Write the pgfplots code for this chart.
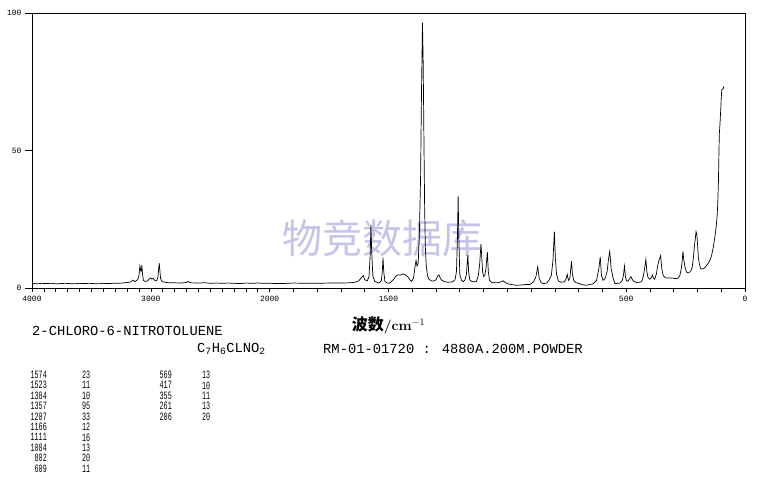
\documentclass[border=0pt]{standalone}
\usepackage{fontspec}
\usepackage{graphicx}
\usepackage{pgfplots}
\pgfplotsset{compat=1.18}
\newfontfamily\mono{Liberation Mono}
\newfontfamily\cjk{Noto Sans CJK SC}
\definecolor{wmark}{RGB}{196,196,232}

\begin{document}
\begin{tikzpicture}[x=1pt,y=1pt]
\useasboundingbox (0,0) rectangle (761,477);
% watermark behind the spectrum
\node[font=\cjk\fontsize{40}{40}\selectfont, text=wmark, inner sep=0] at (382.5,239) {物竞数据库};

\begin{axis}[
  at={(32pt,189pt)}, anchor=south west,
  scale only axis, width=713pt, height=275pt,
  xmin=0, xmax=3000, ymin=0, ymax=100,
  x dir=reverse,
  axis line style={line width=0.8pt},
  tick style={black, line width=0.6pt},
  tick align=outside,
  xtick pos=bottom, ytick pos=left,
  major tick length=4pt, minor tick length=2.5pt,
  xtick={0,100,...,2000,2050,2100,...,3000},
  xticklabels={0,{},{},{},{},500,{},{},{},{},{},{},{},{},{},1500,{},{},{},{},2000,{},{},{},{},{},{},{},{},{},3000,{},{},{},{},{},{},{},{},{},4000},
  ytick=\empty,
  minor ytick={10,20,30,40,60,70,80,90},
  extra y ticks={0,50,100},
  extra y tick labels={0,50,100},
  extra y tick style={major tick length=7pt},
  ticklabel style={font=\mono\fontsize{8}{8}\selectfont},
  xticklabel style={yshift=-1pt},
  xlabel={{\cjk\fontsize{16}{16}\selectfont 波数}/\textbf{cm}$^{-1}$},
  every axis x label/.style={at={(axis description cs:0.5,0)}, anchor=north, yshift=-25pt, font=\fontsize{14}{14}\selectfont\bfseries},
]
\addplot[black, line width=0.7pt, mark=none]
  table[x expr={\thisrow{wn}>2000 ? 2000+(\thisrow{wn}-2000)/2 : \thisrow{wn}}, y=int] {
wn int
4000 1.7
3960 1.5
3920 1.7
3880 1.6
3840 1.7
3800 1.5
3760 1.6
3720 1.7
3680 1.6
3640 1.5
3600 1.7
3560 1.6
3520 1.7
3480 1.6
3440 1.5
3400 1.7
3360 1.6
3320 1.7
3280 1.7
3240 1.8
3200 2.0
3170 2.2
3150 2.9
3135 2.3
3110 3.0
3100 4.5
3092 8.0
3088 7.2
3083 6.0
3078 7.0
3075 8.3
3070 5.0
3062 2.8
3050 2.4
3030 2.5
3010 3.4
3000 3.6
2990 3.2
2980 3.6
2965 2.6
2950 2.6
2940 4.0
2934 7.0
2929 9.0
2924 6.5
2918 3.5
2905 2.3
2880 2.1
2850 1.9
2800 1.9
2750 1.8
2700 2.0
2686 2.4
2670 1.9
2600 1.8
2550 1.9
2500 1.7
2450 1.8
2400 1.7
2350 1.8
2300 1.7
2250 1.6
2200 1.8
2150 1.7
2100 1.8
2050 1.7
2000 1.7
1950 1.6
1900 1.8
1850 1.7
1800 1.7
1750 1.8
1700 1.8
1660 1.9
1640 2.1
1625 2.6
1612 4.0
1606 4.5
1600 3.0
1590 2.6
1582 4.0
1577 12
1574 23
1571 14
1566 4.5
1558 2.4
1540 1.8
1530 2.6
1526 6
1523 11
1520 6
1515 2.4
1505 1.8
1495 1.8
1480 3.0
1470 4.2
1460 4.8
1450 4.7
1440 5.1
1430 4.8
1420 4.2
1410 3.0
1403 2.4
1395 3.5
1388 8
1384 10
1380 8
1375 9
1370 20
1365 40
1361 72
1357 96.5
1354 82
1351 55
1348 30
1345 15
1341 8
1336 4.5
1330 3.2
1320 2.6
1310 2.5
1300 3.0
1292 4.5
1287 4.7
1282 3.5
1275 2.8
1265 2.3
1250 2.1
1230 2.2
1220 3.0
1214 6
1210 18
1207 33.5
1204 18
1200 5
1193 2.8
1185 2.3
1178 3.0
1172 5
1168 10
1166 12
1163 6
1158 3.0
1150 2.4
1140 2.2
1130 2.4
1122 4.5
1116 9
1111 16
1108 12
1104 6
1100 4.2
1095 4.5
1090 7
1084 13
1080 6
1075 2.8
1068 2.1
1060 1.9
1040 1.9
1025 2.3
1018 2.6
1010 2.1
1000 1.6
980 1.2
960 1.0
940 1.1
920 1.3
905 1.3
890 2.2
880 4.0
872 7.7
866 3.5
858 2.0
849 1.6
835 1.8
825 2.8
815 4.5
808 10
802 20.5
798 11
793 5
785 2.6
775 2.1
760 2.2
752 3.5
748 5
743 2.8
737 3.5
733 7
730 9.8
726 5
720 2.6
710 1.9
700 1.7
685 1.2
670 1.0
655 1.2
640 1.5
625 2.7
615 7
609 11.3
604 4.5
597 2.8
589 3.4
580 6
575 10
569 13.3
563 7
556 4
547 1.6
535 1.7
526 1.8
516 2.8
511 5
507 8
503 4
498 2.6
491 2.5
485 3.5
480 4.1
475 3.2
468 2.4
456 2.0
445 2.1
435 2.3
427 4.5
421 8
417 10.4
413 6
408 3.8
400 3.2
394 3.8
390 4.7
385 3.6
380 3.2
373 5
368 7.8
362 10
355 11.8
350 7
344 4.5
335 3.7
320 3.6
305 3.6
290 3.4
280 3.7
274 4.6
268 7
264 10
261 13.3
257 10
252 7.4
246 5.8
241 5.5
235 5.6
228 6.2
222 7.5
216 12
213 15
209 18
206 20.5
202 19
199 15
196 11
192 8.7
187 7.2
182 6.9
175 7
168 7.5
160 8.4
153 9.2
147 10.2
140 12
133 15
126 19
121 22.5
117 26.5
115 30
112 38
108 56
105 60
102 65
98 72
95 72.3
91 72.6
90 73.3
};
\end{axis}

% header lines under the chart
\begin{scope}[every node/.style={inner sep=0, anchor=west, font=\mono\fontsize{13.8}{14}\selectfont}]
\node at (32,146) {2-CHLORO-6-NITROTOLUENE};
\node at (197,128) {C\textsubscript{7}H\textsubscript{6}CLNO\textsubscript{2}};
\node at (323,128) {RM-01-01720 : 4880A.200M.POWDER};
\end{scope}

% peak list
\begin{scope}[every node/.style={inner sep=0, font=\mono\fontsize{11.2}{9.75}\selectfont}]
\node[anchor=north east] at (47,106) {\scalebox{0.6}[1]{\begin{tabular}{@{}r@{}}
1574\\1523\\1384\\1357\\1207\\1166\\1111\\1084\\802\\609\end{tabular}}};
\node[anchor=north west] at (82,106) {\scalebox{0.6}[1]{\begin{tabular}{@{}l@{}}
23\\11\\10\\95\\33\\12\\16\\13\\20\\11\end{tabular}}};
\node[anchor=north east] at (172,106) {\scalebox{0.6}[1]{\begin{tabular}{@{}r@{}}
569\\417\\355\\261\\206\end{tabular}}};
\node[anchor=north west] at (202,106) {\scalebox{0.6}[1]{\begin{tabular}{@{}l@{}}
13\\10\\11\\13\\20\end{tabular}}};
\end{scope}
\end{tikzpicture}
\end{document}
